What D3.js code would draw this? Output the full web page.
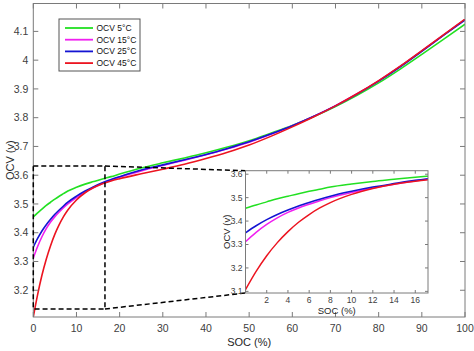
<!DOCTYPE html>
<html>
<head>
<meta charset="utf-8">
<script src="https://cdn.jsdelivr.net/npm/d3@7"></script>
<style>
  html, body { margin: 0; padding: 0; background: #fff; }
  svg { display: block; font-family: "Liberation Sans", Arial, sans-serif; }
</style>
</head>
<body>
<div id="chart"></div>
<script>
// SOC sample points (%)
const soc = [0, 1, 2, 3, 4, 5, 6, 7, 8, 10, 12, 14, 16, 18, 20, 25, 30, 35, 40, 45, 50, 55, 60, 65, 70, 75, 80, 85, 90, 95, 100];

// OCV (V) per temperature
const ocv5 = [3.455, 3.469, 3.482, 3.495, 3.506, 3.517, 3.527, 3.536, 3.545, 3.558, 3.569, 3.578, 3.587, 3.595, 3.604, 3.625, 3.643, 3.660, 3.678, 3.698, 3.720, 3.746, 3.773, 3.804, 3.839, 3.878, 3.921, 3.969, 4.020, 4.072, 4.125];
const ocv15 = [3.312, 3.352, 3.386, 3.414, 3.437, 3.456, 3.472, 3.487, 3.500, 3.522, 3.541, 3.557, 3.571, 3.583, 3.593, 3.615, 3.634, 3.652, 3.671, 3.692, 3.715, 3.742, 3.772, 3.805, 3.842, 3.883, 3.928, 3.978, 4.032, 4.087, 4.142];
const ocv25 = [3.350, 3.380, 3.406, 3.428, 3.447, 3.464, 3.479, 3.493, 3.506, 3.527, 3.545, 3.560, 3.574, 3.585, 3.595, 3.618, 3.636, 3.654, 3.672, 3.693, 3.716, 3.743, 3.772, 3.805, 3.841, 3.882, 3.927, 3.977, 4.031, 4.086, 4.140];
const ocv45 = [3.107, 3.185, 3.252, 3.308, 3.355, 3.395, 3.428, 3.456, 3.479, 3.514, 3.539, 3.557, 3.570, 3.580, 3.588, 3.605, 3.621, 3.638, 3.658, 3.680, 3.705, 3.735, 3.768, 3.803, 3.841, 3.883, 3.929, 3.979, 4.033, 4.088, 4.143];

const seriesNames = ["OCV 5°C", "OCV 15°C", "OCV 25°C", "OCV 45°C"];
const seriesValues = [ocv5, ocv15, ocv25, ocv45];
const seriesColors = ["#22e022", "#f020f0", "#1414d2", "#ec1420"];

// Tick values
const xTicks = [0, 10, 20, 30, 40, 50, 60, 70, 80, 90, 100];
const yTicks = [3.2, 3.3, 3.4, 3.5, 3.6, 3.7, 3.8, 3.9, 4.0, 4.1];
const insetXTicks = [2, 4, 6, 8, 10, 12, 14, 16];
const insetYTicks = [3.1, 3.2, 3.3, 3.4, 3.5, 3.6];

// Zoomed region (data units) and axis limits
const zoomBox = { x0: 0, x1: 16.6, y0: 3.135, y1: 3.632 };
const mainXDomain = [0, 100];
const mainYDomain = [3.107, 4.197];
const insetXDomain = [0, 17.2];
const insetYDomain = [3.093, 3.615];

const width = 474;
const height = 351;

const svg = d3.select("#chart")
  .append("svg")
  .attr("width", width)
  .attr("height", height);

const data = seriesValues.map((vals, i) => ({
  name: seriesNames[i],
  color: seriesColors[i],
  points: soc.map((s, j) => ({ s: s, v: vals[j] }))
}));

const fmt = d => String(+d.toFixed(1));
const axisColor = "#7a7a7a";
const textColor = "#404040";

// Draws a boxed MATLAB-style axes with inward ticks on all four sides
function drawAxes(g, x, y, xt, yt, opts) {
  const [x0, x1] = x.range();
  const [y0, y1] = y.range();
  const tl = opts.tickLen;

  g.append("rect")
    .attr("x", x0).attr("y", y1)
    .attr("width", x1 - x0).attr("height", y0 - y1)
    .attr("fill", "#fff");

  const clipId = opts.id + "-clip";
  g.append("clipPath").attr("id", clipId)
    .append("rect")
    .attr("x", x0).attr("y", y1)
    .attr("width", x1 - x0).attr("height", y0 - y1);

  const line = d3.line()
    .x(d => x(d.s))
    .y(d => y(d.v))
    .curve(d3.curveMonotoneX);

  g.append("g")
    .attr("clip-path", `url(#${clipId})`)
    .selectAll("path")
    .data(data)
    .enter()
    .append("path")
    .attr("d", d => line(d.points))
    .attr("fill", "none")
    .attr("stroke", d => d.color)
    .attr("stroke-width", opts.lineWidth);

  // ticks
  const ticks = g.append("g")
    .attr("stroke", axisColor)
    .attr("stroke-width", 1);

  xt.forEach(t => {
    const px = x(t);
    ticks.append("line").attr("x1", px).attr("x2", px).attr("y1", y0).attr("y2", y0 - tl);
    ticks.append("line").attr("x1", px).attr("x2", px).attr("y1", y1).attr("y2", y1 + tl);
  });
  yt.forEach(t => {
    const py = y(t);
    ticks.append("line").attr("x1", x0).attr("x2", x0 + tl).attr("y1", py).attr("y2", py);
    ticks.append("line").attr("x1", x1).attr("x2", x1 - tl).attr("y1", py).attr("y2", py);
  });

  g.append("rect")
    .attr("x", x0).attr("y", y1)
    .attr("width", x1 - x0).attr("height", y0 - y1)
    .attr("fill", "none")
    .attr("stroke", axisColor)
    .attr("stroke-width", 1);

  // tick labels
  g.append("g")
    .selectAll("text")
    .data(xt)
    .enter()
    .append("text")
    .attr("x", d => x(d))
    .attr("y", y0 + opts.xLabelGap)
    .attr("text-anchor", "middle")
    .style("font-size", opts.tickFont + "px")
    .style("fill", textColor)
    .text(fmt);

  g.append("g")
    .selectAll("text")
    .data(yt)
    .enter()
    .append("text")
    .attr("x", x0 - opts.yLabelGap)
    .attr("y", d => y(d))
    .attr("dy", "0.35em")
    .attr("text-anchor", "end")
    .style("font-size", opts.tickFont + "px")
    .style("fill", textColor)
    .text(fmt);

  // axis titles
  g.append("text")
    .attr("x", (x0 + x1) / 2)
    .attr("y", opts.xTitleY)
    .attr("text-anchor", "middle")
    .style("font-size", opts.titleFont + "px")
    .style("fill", "#262626")
    .text("SOC (%)");

  g.append("text")
    .attr("transform", `translate(${opts.yTitleX}, ${(y0 + y1) / 2}) rotate(-90)`)
    .attr("text-anchor", "middle")
    .style("font-size", opts.titleFont + "px")
    .style("fill", "#262626")
    .text("OCV (v)");
}

// Main axes
const x = d3.scaleLinear().domain(mainXDomain).range([33.3, 465]);
const y = d3.scaleLinear().domain(mainYDomain).range([317, 3.5]);

const main = svg.append("g");
drawAxes(main, x, y, xTicks, yTicks, {
  id: "main", tickLen: 5, lineWidth: 1.6, tickFont: 10.5, titleFont: 11,
  xLabelGap: 15, yLabelGap: 5, xTitleY: 346, yTitleX: 14
});

// Dashed zoom rectangle and connectors
const inX = d3.scaleLinear().domain(insetXDomain).range([245.5, 428]);
const inY = d3.scaleLinear().domain(insetYDomain).range([293, 170.7]);

const dash = svg.append("g")
  .attr("fill", "none")
  .attr("stroke", "#000")
  .attr("stroke-width", 1.5)
  .attr("stroke-dasharray", "5,3");

dash.append("rect")
  .attr("x", x(zoomBox.x0))
  .attr("y", y(zoomBox.y1))
  .attr("width", x(zoomBox.x1) - x(zoomBox.x0))
  .attr("height", y(zoomBox.y0) - y(zoomBox.y1));

dash.append("line")
  .attr("x1", x(zoomBox.x1)).attr("y1", y(zoomBox.y1))
  .attr("x2", inX.range()[0]).attr("y2", inY.range()[1]);

dash.append("line")
  .attr("x1", x(zoomBox.x1)).attr("y1", y(zoomBox.y0))
  .attr("x2", inX.range()[0]).attr("y2", inY.range()[0]);

// Inset axes
const inset = svg.append("g");
drawAxes(inset, inX, inY, insetXTicks, insetYTicks, {
  id: "inset", tickLen: 3, lineWidth: 1.5, tickFont: 8.5, titleFont: 9.5,
  xLabelGap: 10, yLabelGap: 3, xTitleY: 314, yTitleX: 230
});

// Legend
const legend = svg.append("g");
legend.append("rect")
  .attr("x", 59).attr("y", 19)
  .attr("width", 81).attr("height", 52)
  .attr("fill", "#fff")
  .attr("stroke", "#555")
  .attr("stroke-width", 1);

data.forEach((d, i) => {
  const ly = 28 + i * 11.7;
  legend.append("line")
    .attr("x1", 65).attr("x2", 93)
    .attr("y1", ly).attr("y2", ly)
    .attr("stroke", d.color)
    .attr("stroke-width", 1.8);
  legend.append("text")
    .attr("x", 96.5).attr("y", ly)
    .attr("dy", "0.35em")
    .style("font-size", "8.5px")
    .style("fill", "#111")
    .text(d.name);
});
</script>
</body>
</html>
